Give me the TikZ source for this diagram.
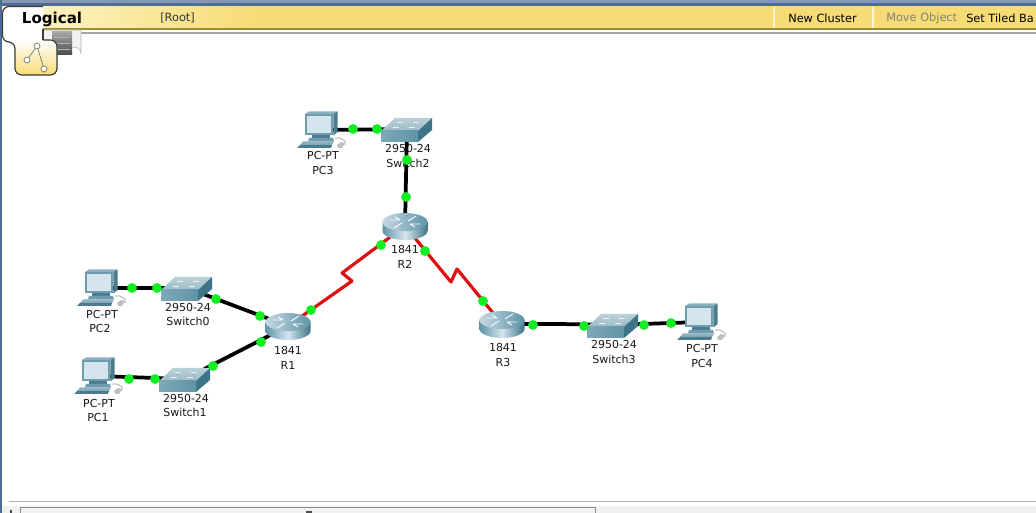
\documentclass[tikz,border=0pt]{standalone}
\usepackage{fontspec}
\setmainfont{DejaVu Sans}
\usetikzlibrary{calc}
\definecolor{barA}{HTML}{FFF6CF}
\definecolor{barB}{HTML}{F7DC75}
\definecolor{edgeDark}{HTML}{3A3A34}
\definecolor{frameBlue}{HTML}{4F6C94}
\definecolor{swFront}{HTML}{5F93A6}
\definecolor{swTop}{HTML}{9DBCC8}
\definecolor{swSide}{HTML}{3E7487}
\definecolor{pcBody}{HTML}{6F9CAE}
\definecolor{pcDark}{HTML}{4A7B8E}
\definecolor{pcScreen}{HTML}{D5E5EE}
\definecolor{dotGreen}{HTML}{11EE22}
\definecolor{serialRed}{HTML}{DD1111}
\tikzset{
  x=0.75pt,y=-0.75pt,
  lbl/.style={inner sep=0pt,font=\fontsize{8.25}{10}\selectfont,text=black!90},
  uitext/.style={inner sep=0pt,anchor=west,font=\fontsize{8.5}{10}\selectfont},
  lan/.style={draw=black,line width=2.8pt},
  serial/.style={draw=serialRed,line width=2.4pt,line join=round},
  portdot/.style={circle,fill=dotGreen,draw=none,minimum size=7.4pt,inner sep=0pt},
  pc/.pic={
    \fill[pcBody!80!white] (-15,-16)--(-11,-18.5)--(17.7,-18.5)--(13.3,-16)--cycle;
    \fill[pcDark] (13.3,-16)--(17.7,-18.5)--(17.7,2)--(13.3,5.5)--cycle;
    \fill[pcBody] (-15,-16) rectangle (13.3,5.5);
    \fill[pcScreen] (-12.7,-14) rectangle (11.3,2.7);
    \fill[pcDark] (-8,5.5)--(10,5.5)--(10,8)--(-8,8)--cycle;
    \fill[pcBody] (-11,8)--(13,8)--(14,11.5)--(-12,11.5)--cycle;
    \fill[pcBody!80!white] (-17,11.5)--(14,11.5)--(12,15)--(-20,15)--cycle;
    \fill[pcDark] (-20,15)--(12,15)--(11,18)--(-23,18)--cycle;
    \draw[black!40,line width=0.5pt] (15,8)--(20,8)--(25,11)--(25,15);
    \fill[black!25] (17,15)--(21,12)--(25,13)--(22,18)--(18,18)--cycle;
  },
  switchicon/.pic={
    \shade[top color=swTop!70!white,bottom color=swTop] (-26,2)--(-12,-11)--(25,-11)--(11,2)--cycle;
    \fill[swSide] (11,2)--(25,-11)--(25,1)--(11,13)--cycle;
    \shade[left color=swFront!80!white,right color=swFront] (-26,2) rectangle (11,13);
    \draw[white!80!swTop,line width=0.6pt] (-10,-7)--(-4,-7) (6,-7)--(12,-7) (-14,-2)--(-8,-2) (2,-2)--(8,-2);
  },
  routericon/.pic={
    \shade[left color=swFront,right color=swSide,middle color=pcScreen] (-22.5,-4) -- (-22.5,5) arc[start angle=180,end angle=0,x radius=22.5,y radius=9] -- (22.5,-4) -- cycle;
    \shade[left color=pcScreen!70!swTop,right color=swFront] (0,-4) ellipse [x radius=22.5,y radius=9];
    \draw[white,line width=0.7pt] (-15,-6)--(-5,-6) (-10,-9)--(-5,-6) (15,-2)--(5,-2) (10,1)--(5,-2) (3,-5)--(11,-10) (-3,-3)--(-11,2);
  },
}
\begin{document}
\begin{tikzpicture}
\useasboundingbox (0,0) rectangle (1036,513);
\fill[white] (0,0) rectangle (1036,513);
% device positions
\coordinate (pc1) at (97,376);
\coordinate (pc2) at (100,288);
\coordinate (pc3) at (320,130);
\coordinate (pc4) at (700,322);
\coordinate (s0) at (187,288);
\coordinate (s1) at (185,379);
\coordinate (s2) at (407,129);
\coordinate (s3) at (613,325);
\coordinate (r1) at (288,326);
\coordinate (r2) at (405,226);
\coordinate (r3) at (502,324);
\coordinate (z1) at (352,281);
\coordinate (z2) at (342,273);
\coordinate (z3) at (451,282);
\coordinate (z4) at (457,269);
\coordinate (b1) at (560,324);
% title bar
\shade[left color=barA,right color=barB] (2,6) rectangle (260,29);
\fill[barB] (259,6) rectangle (1036,29);
\fill[frameBlue!70!white] (0,0) rectangle (1036,3);
\fill[frameBlue] (0,3) rectangle (1036,6);
\fill[frameBlue] (0,0) rectangle (2,513);
\fill[olive!70!black!70!barB] (43,28.5) rectangle (1036,30.5);
\fill[black!35] (80,32.5) rectangle (1036,34);
\fill[barA] (773,7) rectangle (774.5,28);
\fill[barA] (872,7) rectangle (873.5,28);
% stacked tab
\path[draw=black!30,fill=black!5] (43,30) -- (81,30) -- (81,54) arc[start angle=0,end angle=-90,radius=7] -- (43,61) -- cycle;
\shade[top color=black!35,bottom color=black!70] (52,32) rectangle (72,55);
\foreach \yy in {37,43,49} \fill[black!30] (54,\yy) rectangle (70,\yy+1.2);
% main tab
\fill[white] (8,7) -- (43,7) -- (43,42) -- (3,42) -- (3,12) -- cycle;
\shade[top color=white,bottom color=barB] (15,41) [rounded corners=5pt] -- (15,75) -- (57,75) -- (57,40) -- (15,40) -- cycle;
\draw[edgeDark,line width=0.9pt,rounded corners=5pt] (43,6.5) -- (2.5,6.5) -- (2.5,42) -- (15,42) -- (15,75) -- (57,75) -- (57,40) -- (43,40);
\draw[edgeDark,line width=0.9pt] (43,40.5) -- (43,29);
\draw[black!55,line width=0.5pt] (37,46) -- (27,60) (37,46) -- (44,69);
\draw[black!55,line width=0.5pt,fill=white] (37,46) circle (3);
\draw[black!55,line width=0.5pt,fill=white] (27,60) circle (3);
\draw[black!55,line width=0.5pt,fill=white] (44,69) circle (3);
\node[inner sep=0pt,font=\bfseries\fontsize{11.3}{13}\selectfont] (tabtitle) at (52,19) {Logical};
\node[uitext,text=black!80] (root) at (160,18) {[Root]};
\node[uitext,text=black] (newcl) at (788,18) {New Cluster};
\node[uitext,text=black!50] (moveob) at (886,18) {Move Object};
\node[uitext,text=black] (settiled) at (966,18) {Set Tiled Ba};
% bottom scrollbar
\fill[black!30] (9,501) rectangle (1036,502);
\fill[black!6] (2,506) rectangle (1036,513);
\draw[black!45,fill=black!5] (20,507.5) rectangle (595,515);
\fill[black!70] (306,511) rectangle (312,513);
\fill[black!70] (10,510) rectangle (12,513);
% labels
\node[lbl] (l3a) at (323,155) {PC-PT};
\node[lbl] (l3b) at (323,170) {PC3};
\node[lbl] (s2a) at (408,148) {2950-24};
\node[lbl] (s2b) at (408,163) {Switch2};
\node[lbl] (r2a) at (405,249) {1841};
\node[lbl] (r2b) at (405,264) {R2};
\node[lbl] (l2a) at (102,314) {PC-PT};
\node[lbl] (l2b) at (100,328) {PC2};
\node[lbl] (s0a) at (188,307) {2950-24};
\node[lbl] (s0b) at (188,321) {Switch0};
\node[lbl] (r1a) at (288,350) {1841};
\node[lbl] (r1b) at (288,365) {R1};
\node[lbl] (l1a) at (99,403) {PC-PT};
\node[lbl] (l1b) at (98,417) {PC1};
\node[lbl] (s1a) at (186,398) {2950-24};
\node[lbl] (s1b) at (185,412) {Switch1};
\node[lbl] (r3a) at (503,347) {1841};
\node[lbl] (r3b) at (503,362) {R3};
\node[lbl] (s3a) at (614,344) {2950-24};
\node[lbl] (s3b) at (614,359) {Switch3};
\node[lbl] (l4a) at (702,348) {PC-PT};
\node[lbl] (l4b) at (702,363) {PC4};
% connectors
\draw[lan] (pc3) -- (s2);
\draw[lan] (s2) -- (r2);
\draw[lan] (pc2) -- (s0);
\draw[lan] (s0) -- (r1);
\draw[lan] (pc1) -- (s1);
\draw[lan] (s1) -- (r1);
\draw[lan] (r3) -- (b1) -- (s3);
\draw[lan] (s3) -- (pc4);
\draw[serial] (r1) -- (z1) -- (z2) -- (r2);
\draw[serial] (r2) -- (z3) -- (z4) -- (r3);
% devices
\pic at (pc1) {pc};
\pic at (pc2) {pc};
\pic at (pc3) {pc};
\pic at (pc4) {pc};
\pic at (s0) {switchicon};
\pic at (s1) {switchicon};
\pic at (s2) {switchicon};
\pic at (s3) {switchicon};
\pic at (r1) {routericon};
\pic at (r2) {routericon};
\pic at (r3) {routericon};
% port lights
\node[portdot] (d1) at (353,129) {};
\node[portdot] (d2) at (377,129) {};
\node[portdot] (d3) at (407,160) {};
\node[portdot] (d4) at (406,197) {};
\node[portdot] (d5) at (381,245) {};
\node[portdot] (d6) at (425,251) {};
\node[portdot] (d7) at (132,288) {};
\node[portdot] (d8) at (157,288) {};
\node[portdot] (d9) at (216,299) {};
\node[portdot] (d10) at (260,316) {};
\node[portdot] (d11) at (261,342) {};
\node[portdot] (d12) at (311,310) {};
\node[portdot] (d13) at (129,379) {};
\node[portdot] (d14) at (155,379) {};
\node[portdot] (d15) at (213,366) {};
\node[portdot] (d16) at (483,301) {};
\node[portdot] (d17) at (533,325) {};
\node[portdot] (d18) at (584,326) {};
\node[portdot] (d19) at (644,325) {};
\node[portdot] (d20) at (671,323) {};
\end{tikzpicture}
\end{document}
